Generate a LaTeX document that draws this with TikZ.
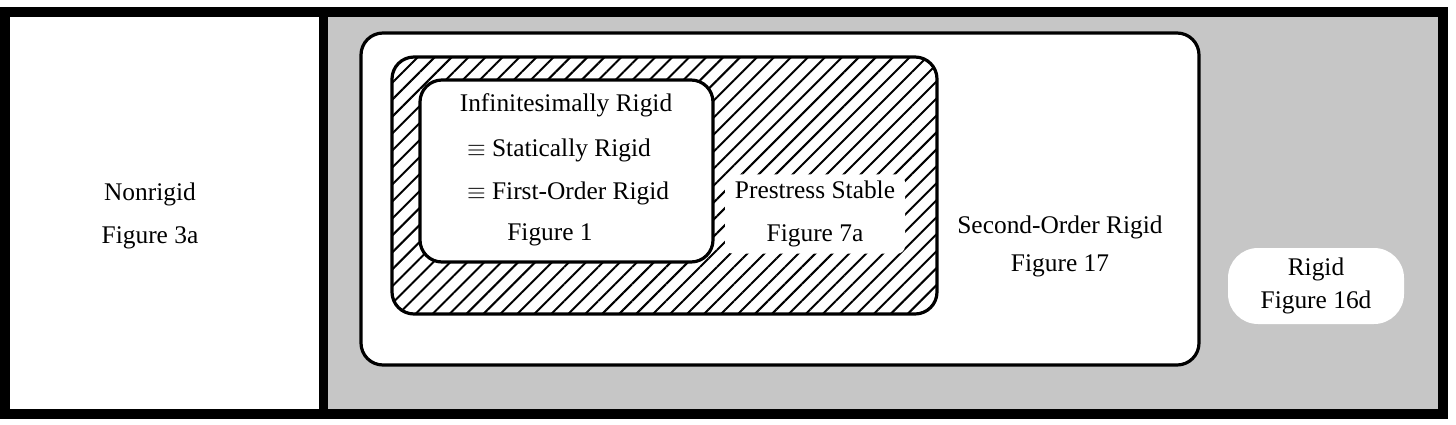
\documentclass[tikz,border=0pt]{standalone}
\usepackage{fontspec}
\setmainfont{Liberation Serif}
\usetikzlibrary{patterns.meta}
\begin{document}
\begin{tikzpicture}[x=0.5pt,y=-0.5pt,
  lbl/.style={align=center,font=\fontsize{12.7}{21.5}\selectfont},
  region/.style={rounded corners=11pt,line width=1.6pt}]
\useasboundingbox (0,0) rectangle (1456,424);
\fill[white] (0,0) rectangle (1456,424);
\fill[gray!45] (324,14) rectangle (1443,414);
\draw[line width=5pt] (5,12) rectangle (1443,414);
\draw[line width=4.5pt] (323,12) -- (323,414);
\draw[region,fill=white] (361,33) rectangle (1199,365);
\draw[region,pattern={Lines[angle=45,distance=6pt,line width=1pt]}] (392,57) rectangle (937,314);
\draw[region,fill=white] (420,80) rectangle (713,262);
\node[lbl] (nr) at (150,216) {Nonrigid\\Figure 3a};
\node[lbl] (ir1) at (566,105) {Infinitesimally Rigid};
\node[lbl,anchor=west] (ir2) at (460,150) {$\equiv$ Statically Rigid};
\node[lbl,anchor=west] (ir3) at (460,193) {$\equiv$ First-Order Rigid};
\node[lbl] (ir4) at (550,235) {Figure 1};
\node[lbl,fill=white,rounded corners=4pt,minimum width=90pt,minimum height=37pt] (ps) at (815,214) {Prestress Stable\\Figure 7a};
\node[lbl,font=\fontsize{12.7}{19}\selectfont] (so) at (1060,246) {Second-Order Rigid\\Figure 17};
\node[lbl,font=\fontsize{12.7}{16.5}\selectfont,fill=white,rounded corners=15pt,minimum width=88pt,minimum height=38pt] (rg) at (1316,286) {Rigid\\Figure 16d};
\end{tikzpicture}
\end{document}
